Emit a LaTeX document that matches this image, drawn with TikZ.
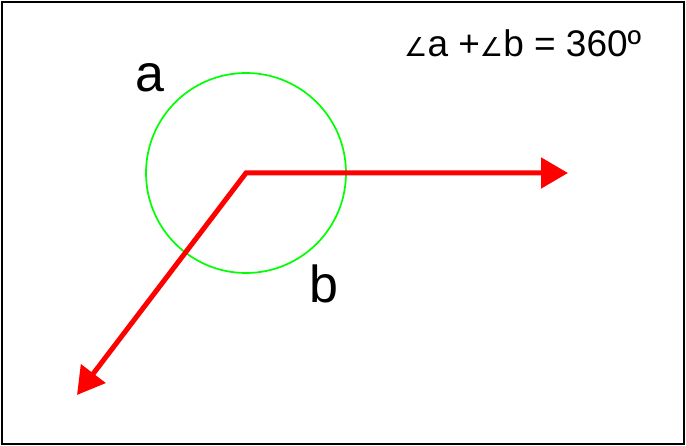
\documentclass[tikz,border=0pt]{standalone}
\usepackage{fontspec}
\setmainfont{Liberation Sans}
\newfontfamily\dejavu{DejaVu Sans}
\newcommand{\angsym}{{\dejavu\fontsize{26}{28}\selectfont ∠}}
\usetikzlibrary{arrows.meta}
\begin{document}
\begin{tikzpicture}[x=1pt,y=-1pt,
  arr/.style={red, line width=5pt, line join=miter, {Triangle[length=27pt,width=30pt]}-{Triangle[length=27pt,width=30pt]}},
  big/.style={anchor=base west, inner sep=0pt, font=\fontsize{52}{60}\selectfont},
  eq/.style={anchor=base west, inner sep=0pt, font=\fontsize{37}{44}\selectfont}]
\useasboundingbox (0,0) rectangle (686,446);
\draw[line width=2.5pt] (2,2) rectangle (684,444);
\coordinate (o) at (246,173);
\node[circle, draw=green, line width=1.7pt, minimum size=200pt, inner sep=0pt] (c) at (o) {};
\coordinate (e1) at (568,173);
\coordinate (e2) at (77,395);
\draw[arr] (e2) -- (o) -- (e1);
\node[big] (la) at (135,92) {a};
\node[big] (lb) at (309,303) {b};
\node[eq] (eqn) at (404,57) {\angsym a +\angsym b = 360º};
\end{tikzpicture}
\end{document}
